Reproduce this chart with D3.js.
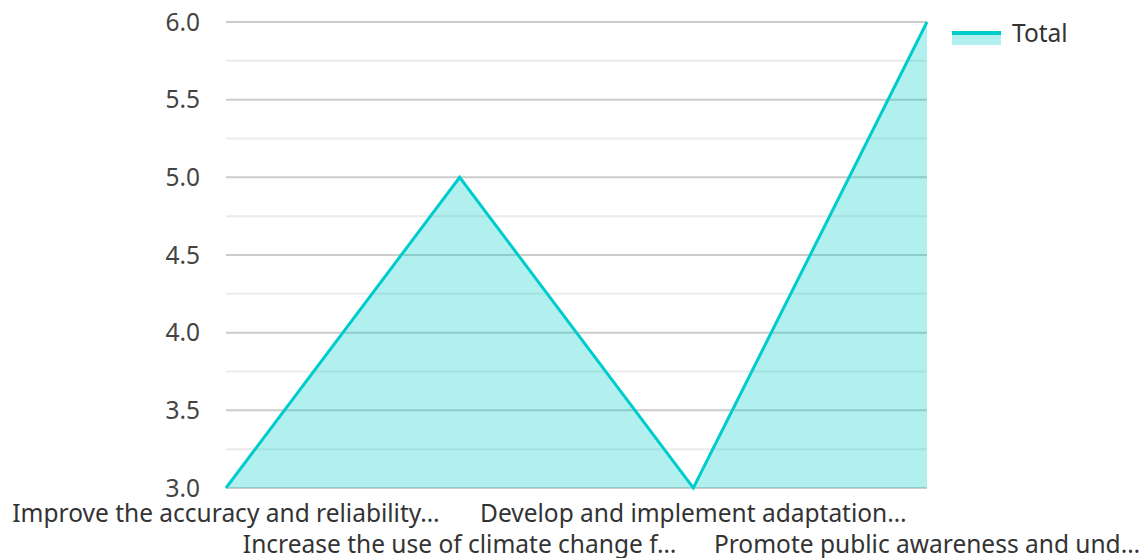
<!DOCTYPE html>
<html>
<head>
<meta charset="utf-8">
<script src="https://cdn.jsdelivr.net/npm/d3@7"></script>
<style>
  body { margin: 0; background: #fff; }
  text { font-family: "Noto Sans", "Open Sans", sans-serif; }
</style>
</head>
<body>
<div id="chart"></div>
<script>
// Chart data
const categories = [
  "Improve the accuracy and reliability…",
  "Increase the use of climate change f…",
  "Develop and implement adaptation…",
  "Promote public awareness and und…"
];
const totalValues = [3, 5, 3, 6];
const yTicks = [3.0, 3.5, 4.0, 4.5, 5.0, 5.5, 6.0];
const minorTicks = [3.25, 3.75, 4.25, 4.75, 5.25, 5.75];
const seriesName = "Total";

const width = 1146, height = 558;
const plotLeft = 226, plotRight = 927, plotTop = 22, plotBottom = 488;
const fontSize = 24.5;

const svg = d3.select("#chart").append("svg")
    .attr("width", width)
    .attr("height", height);

const xScale = d3.scalePoint().domain(d3.range(categories.length)).range([plotLeft, plotRight]);
const yScale = d3.scaleLinear().domain([3, 6]).range([plotBottom, plotTop]);

// minor gridlines
svg.append("g").selectAll("line")
    .data(minorTicks)
    .enter().append("line")
    .attr("x1", plotLeft).attr("x2", plotRight)
    .attr("y1", d => yScale(d)).attr("y2", d => yScale(d))
    .attr("stroke", "#ebebeb").attr("stroke-width", 2);

// major gridlines
svg.append("g").selectAll("line")
    .data(yTicks)
    .enter().append("line")
    .attr("x1", plotLeft).attr("x2", plotRight)
    .attr("y1", d => yScale(d)).attr("y2", d => yScale(d))
    .attr("stroke", "#cccccc").attr("stroke-width", 2);

// y tick labels
svg.append("g").selectAll("text")
    .data(yTicks)
    .enter().append("text")
    .attr("x", 200)
    .attr("y", d => yScale(d))
    .attr("dy", "0.35em")
    .attr("text-anchor", "end")
    .attr("font-size", fontSize)
    .attr("fill", "#444")
    .text(d => d.toFixed(1));

// area + line
const area = d3.area()
    .x((d, i) => xScale(i))
    .y0(yScale(3))
    .y1(d => yScale(d));
const line = d3.line()
    .x((d, i) => xScale(i))
    .y(d => yScale(d));

svg.append("path")
    .datum(totalValues)
    .attr("d", area)
    .attr("fill", "rgba(0,204,204,0.3)");

svg.append("path")
    .datum(totalValues)
    .attr("d", line)
    .attr("fill", "none")
    .attr("stroke", "#00cccc")
    .attr("stroke-width", 3);

// x labels, alternating rows
svg.append("g").selectAll("text")
    .data(categories)
    .enter().append("text")
    .attr("x", (d, i) => xScale(i))
    .attr("y", (d, i) => i % 2 === 0 ? 522 : 553)
    .attr("text-anchor", "middle")
    .attr("font-size", fontSize)
    .attr("fill", "#333")
    .text(d => d);

// legend
const legend = svg.append("g").attr("transform", "translate(952, 33)");
legend.append("rect")
    .attr("x", 0).attr("y", 0).attr("width", 49).attr("height", 12)
    .attr("fill", "rgba(0,204,204,0.3)");
legend.append("line")
    .attr("x1", 0).attr("x2", 49).attr("y1", 0).attr("y2", 0)
    .attr("stroke", "#00cccc").attr("stroke-width", 4);
legend.append("text")
    .attr("x", 60).attr("y", 0)
    .attr("dy", "0.35em")
    .attr("font-size", fontSize)
    .attr("fill", "#333")
    .text(seriesName);
</script>
</body>
</html>
